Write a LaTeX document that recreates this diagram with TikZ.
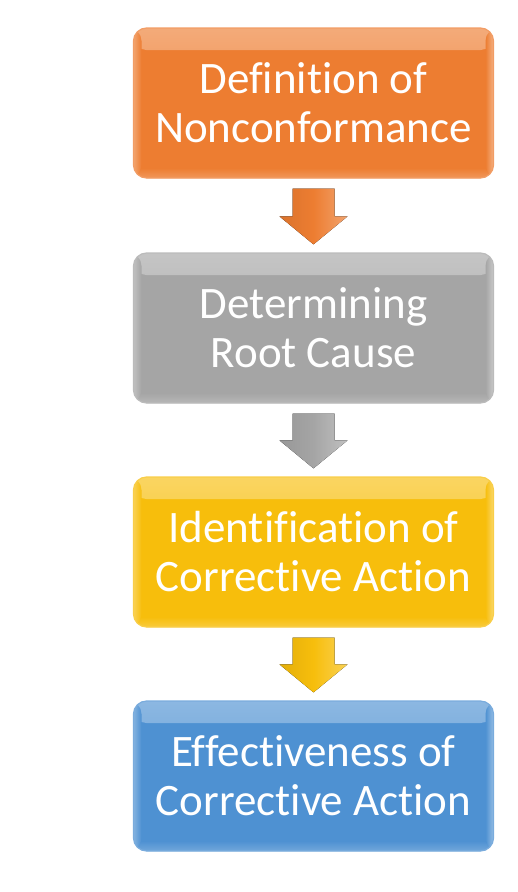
\documentclass[tikz,border=0pt]{standalone}
\usepackage{fontspec}
\setmainfont[Ligatures={NoCommon}]{Carlito}
\usetikzlibrary{calc}
\definecolor{cOrange}{HTML}{ED7D31}
\definecolor{cGray}{HTML}{A5A5A5}
\definecolor{cGold}{HTML}{F7BE0C}
\definecolor{cBlue}{HTML}{4E91D2}
\tikzset{
  stepbox/.style={rounded corners=13pt, minimum width=360pt, minimum height=150pt,
    inner sep=0pt, text=white, align=center,
    font=\fontsize{45}{49}\selectfont,
    fill=#1, draw=#1!75!white, line width=1.2pt,
    path picture={
      \shade[top color=#1!65!white, bottom color=#1]
        (path picture bounding box.north west) rectangle
        ([yshift=-22pt]path picture bounding box.north east);
      \shade[top color=#1, bottom color=#1!80!white]
        ([yshift=10pt]path picture bounding box.south west) rectangle
        (path picture bounding box.south east);
      \shade[left color=#1!70!white, right color=#1]
        (path picture bounding box.south west) rectangle
        ([xshift=8pt]path picture bounding box.north west);
      \shade[left color=#1, right color=#1!60!white]
        ([xshift=-8pt]path picture bounding box.south east) rectangle
        (path picture bounding box.north east);
    }},
  blockarrow/.style={left color=#1!92!black, right color=#1!70!white, middle color=#1}
}
\begin{document}
\begin{tikzpicture}[x=1pt,y=1pt]
\useasboundingbox (0,0) rectangle (517,-892);
\node[stepbox=cOrange] (b1) at (313.5,-103) {Definition of\\Nonconformance};
\node[stepbox=cGray]   (b2) at (313.5,-328) {Determining\\Root Cause};
\node[stepbox=cGold]   (b3) at (313.5,-552) {Identification of\\Corrective Action};
\node[stepbox=cBlue]   (b4) at (313.5,-776) {Effectiveness of\\Corrective Action};
\foreach \a/\b/\c in {b1/b2/cOrange, b2/b3/cGray, b3/b4/cGold}{
  \fill[blockarrow=\c]
    ($(\a.south)+(-21,-10)$) -- ($(\a.south)+(21,-10)$) --
    ($(\b.north)+(21,36)$) -- ($(\b.north)+(34,36)$) --
    ($(\b.north)+(0,8)$) --
    ($(\b.north)+(-34,36)$) -- ($(\b.north)+(-21,36)$) -- cycle;
}
\end{tikzpicture}
\end{document}
